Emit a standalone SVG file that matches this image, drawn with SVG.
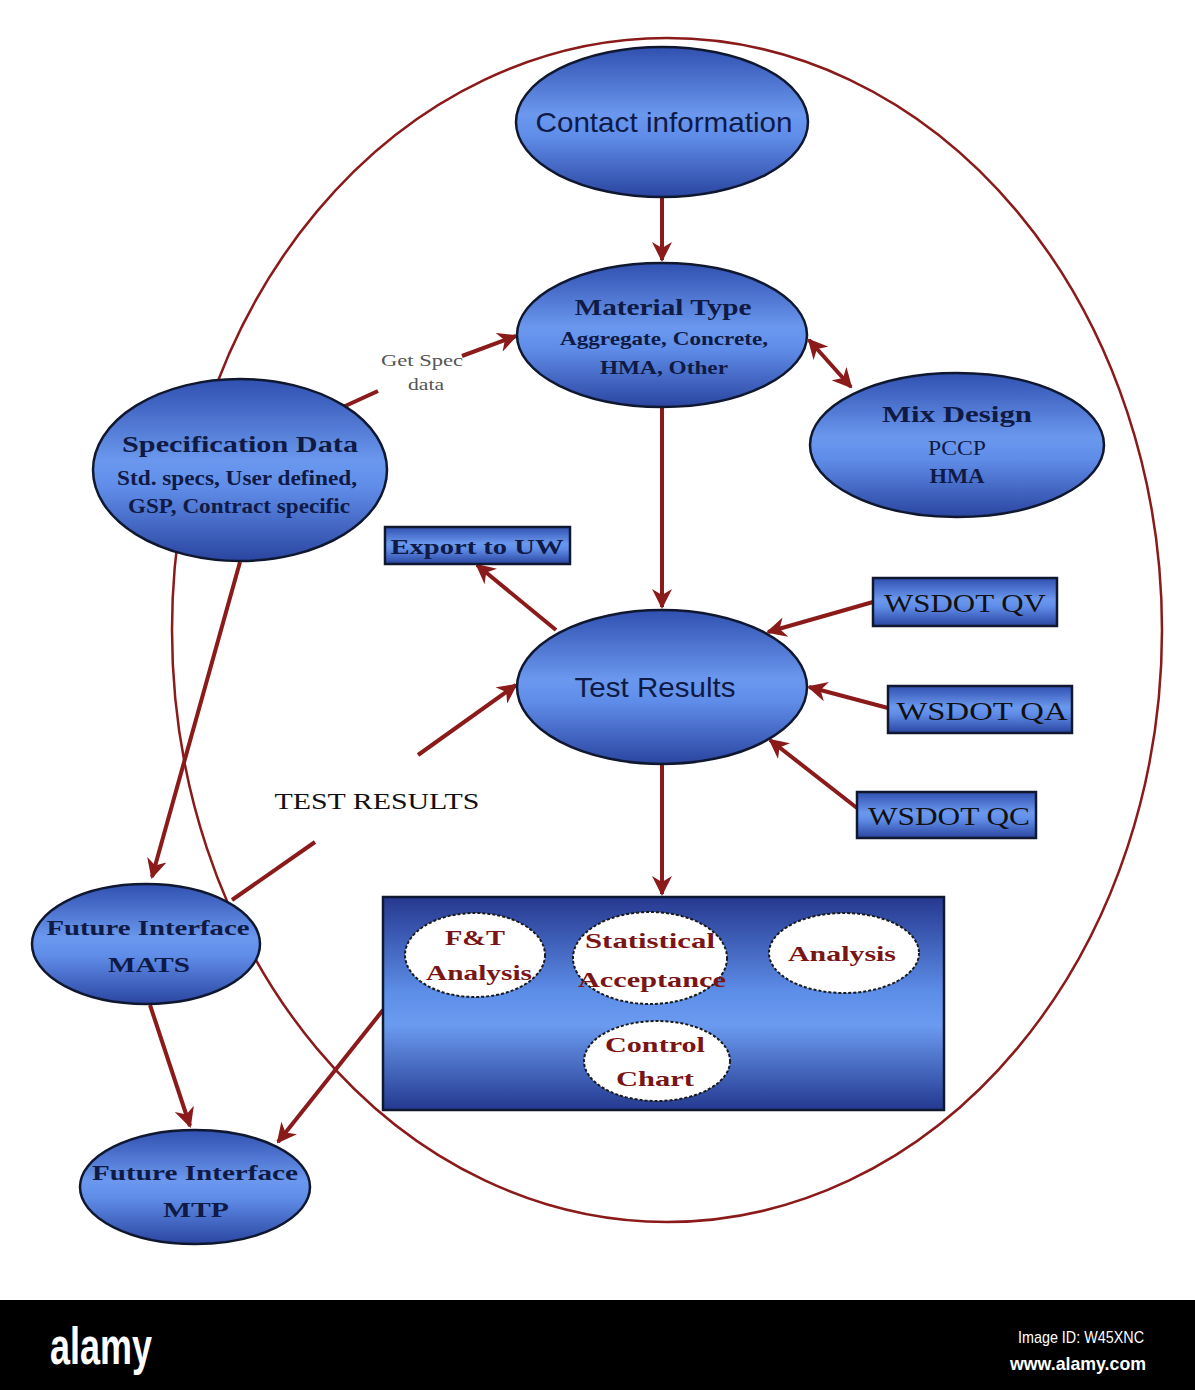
<svg xmlns="http://www.w3.org/2000/svg" width="1195" height="1390" viewBox="0 0 1195 1390">
<style>
.node{stroke:#101830;stroke-width:2.5}
.con{stroke:#8b1a1a;stroke-width:4;fill:none}
.ser{font-family:"Liberation Serif","Times New Roman",serif;fill:#0f1a45;text-anchor:middle}
.b{font-weight:bold}
.sans{font-family:"Liberation Sans",Arial,sans-serif;fill:#0f1a45;text-anchor:middle}
.inner{fill:#ffffff;stroke:#1a1a1a;stroke-width:2;stroke-dasharray:3 2}
.red{font-family:"Liberation Serif","Times New Roman",serif;font-weight:bold;fill:#7a1515;text-anchor:middle;font-size:22px}
.mono{font-family:"Liberation Serif","Times New Roman",serif;fill:#111;text-anchor:middle}
</style>
<defs>
<linearGradient id="g" x1="0" y1="0" x2="0" y2="1">
<stop offset="0" stop-color="#3050b0"/>
<stop offset="0.45" stop-color="#6b98ee"/>
<stop offset="0.6" stop-color="#5f8ce8"/>
<stop offset="1" stop-color="#2a45a0"/>
</linearGradient>
<linearGradient id="gb" x1="0" y1="0" x2="0" y2="1">
<stop offset="0" stop-color="#26388f"/>
<stop offset="0.45" stop-color="#5d8ee8"/>
<stop offset="0.6" stop-color="#6b9bf0"/>
<stop offset="1" stop-color="#23398f"/>
</linearGradient>
<marker id="ah" viewBox="0 0 10 10" refX="9" refY="5" markerWidth="5" markerHeight="5" orient="auto-start-reverse" markerUnits="strokeWidth">
<path d="M0,0 L10,5 L0,10 L3,5 z" fill="#8b1a1a"/>
</marker>
</defs>
<rect width="1195" height="1390" fill="#ffffff"/>

<g id="boundary">
<ellipse cx="667" cy="630" rx="495" ry="592" fill="none" stroke="#8b1a1a" stroke-width="2.5"/>
</g>

<g id="connectors">
<line class="con" x1="662" y1="198" x2="662" y2="260" marker-end="url(#ah)"/>
<line class="con" x1="343" y1="407" x2="378" y2="391"/>
<line class="con" x1="462" y1="356" x2="516" y2="336" marker-end="url(#ah)"/>
<line class="con" x1="809" y1="340" x2="851" y2="387" marker-start="url(#ah)" marker-end="url(#ah)"/>
<line class="con" x1="662" y1="408" x2="662" y2="607" marker-end="url(#ah)"/>
<line class="con" x1="556" y1="630" x2="477" y2="565" marker-end="url(#ah)"/>
<line class="con" x1="873" y1="602" x2="768" y2="632" marker-end="url(#ah)"/>
<line class="con" x1="888" y1="708" x2="809" y2="687" marker-end="url(#ah)"/>
<line class="con" x1="857" y1="808" x2="770" y2="740" marker-end="url(#ah)"/>
<line class="con" x1="418" y1="755" x2="516" y2="685" marker-end="url(#ah)"/>
<line class="con" x1="315" y1="842" x2="232" y2="900"/>
<line class="con" x1="662" y1="764" x2="662" y2="894" marker-end="url(#ah)"/>
<line class="con" x1="240" y1="562" x2="152" y2="877" marker-end="url(#ah)"/>
<line class="con" x1="150" y1="1005" x2="190" y2="1126" marker-end="url(#ah)"/>
<line class="con" x1="383" y1="1010" x2="278" y2="1142" marker-end="url(#ah)"/>
<text x="422" y="366" font-family="Liberation Serif,serif" font-size="17" fill="#555" text-anchor="middle" textLength="82" lengthAdjust="spacingAndGlyphs">Get Spec</text>
<text x="426" y="390" font-family="Liberation Serif,serif" font-size="17" fill="#555" text-anchor="middle" textLength="36" lengthAdjust="spacingAndGlyphs">data</text>
<text class="mono" x="377" y="809" font-size="23" textLength="205" lengthAdjust="spacingAndGlyphs">TEST RESULTS</text>
</g>

<g id="contact">
<ellipse class="node" cx="662" cy="122" rx="146" ry="75" fill="url(#g)"/>
<text class="sans" x="664" y="132" font-size="28" textLength="257" lengthAdjust="spacingAndGlyphs">Contact information</text>
</g>

<g id="material">
<ellipse class="node" cx="662" cy="335" rx="145" ry="72" fill="url(#g)"/>
<text class="ser b" x="663" y="315" font-size="23" textLength="177" lengthAdjust="spacingAndGlyphs">Material Type</text>
<text class="ser b" x="664" y="345" font-size="19" textLength="208" lengthAdjust="spacingAndGlyphs">Aggregate, Concrete,</text>
<text class="ser b" x="664" y="374" font-size="19" textLength="128" lengthAdjust="spacingAndGlyphs">HMA, Other</text>
</g>

<g id="mixdesign">
<ellipse class="node" cx="957" cy="445" rx="147" ry="72" fill="url(#g)"/>
<text class="ser b" x="957" y="422" font-size="23" textLength="150" lengthAdjust="spacingAndGlyphs">Mix Design</text>
<text class="ser" x="957" y="455" font-size="20" textLength="58" lengthAdjust="spacingAndGlyphs">PCCP</text>
<text class="ser b" x="957" y="483" font-size="20" textLength="55" lengthAdjust="spacingAndGlyphs">HMA</text>
</g>

<g id="specdata">
<ellipse class="node" cx="240" cy="470" rx="147" ry="91" fill="url(#g)"/>
<text class="ser b" x="240" y="452" font-size="24" textLength="236" lengthAdjust="spacingAndGlyphs">Specification Data</text>
<text class="ser b" x="237" y="485" font-size="20" textLength="240" lengthAdjust="spacingAndGlyphs">Std. specs, User defined,</text>
<text class="ser b" x="239" y="513" font-size="20" textLength="222" lengthAdjust="spacingAndGlyphs">GSP, Contract specific</text>
</g>

<g id="export">
<rect class="node" x="385" y="527" width="185" height="37" fill="url(#g)"/>
<text class="ser b" x="477" y="554" font-size="22" textLength="173" lengthAdjust="spacingAndGlyphs">Export to UW</text>
</g>

<g id="testresults">
<ellipse class="node" cx="662" cy="687" rx="145" ry="77" fill="url(#g)"/>
<text class="sans" x="655" y="697" font-size="28" textLength="161" lengthAdjust="spacingAndGlyphs">Test Results</text>
</g>

<g id="qv">
<rect class="node" x="873" y="578" width="184" height="48" fill="url(#g)"/>
<text class="mono" x="965" y="612" font-size="26" textLength="162" lengthAdjust="spacingAndGlyphs">WSDOT QV</text>
</g>

<g id="qa">
<rect class="node" x="888" y="686" width="184" height="47" fill="url(#g)"/>
<text class="mono" x="982" y="720" font-size="26" textLength="171" lengthAdjust="spacingAndGlyphs">WSDOT QA</text>
</g>

<g id="qc">
<rect class="node" x="857" y="792" width="179" height="46" fill="url(#g)"/>
<text class="mono" x="949" y="825" font-size="26" textLength="162" lengthAdjust="spacingAndGlyphs">WSDOT QC</text>
</g>

<g id="analysisbox">
<rect class="node" x="383" y="897" width="561" height="213" fill="url(#gb)"/>
<g id="ft">
<ellipse class="inner" cx="475" cy="955" rx="70" ry="42"/>
<text class="red" x="475" y="945" textLength="60" lengthAdjust="spacingAndGlyphs">F&amp;T</text>
<text class="red" x="479" y="980" textLength="106" lengthAdjust="spacingAndGlyphs">Analysis</text>
</g>
<g id="stat">
<ellipse class="inner" cx="650" cy="958" rx="77" ry="46"/>
<text class="red" x="650" y="948" textLength="130" lengthAdjust="spacingAndGlyphs">Statistical</text>
<text class="red" x="652" y="987" textLength="148" lengthAdjust="spacingAndGlyphs">Acceptance</text>
</g>
<g id="analysis">
<ellipse class="inner" cx="844" cy="953" rx="75" ry="40"/>
<text class="red" x="842" y="961" textLength="108" lengthAdjust="spacingAndGlyphs">Analysis</text>
</g>
<g id="control">
<ellipse class="inner" cx="657" cy="1061" rx="73" ry="40"/>
<text class="red" x="655" y="1052" textLength="100" lengthAdjust="spacingAndGlyphs">Control</text>
<text class="red" x="655" y="1086" textLength="78" lengthAdjust="spacingAndGlyphs">Chart</text>
</g>
</g>

<g id="mats">
<ellipse class="node" cx="146" cy="944" rx="114" ry="60" fill="url(#g)"/>
<text class="ser b" x="148" y="935" font-size="22" textLength="203" lengthAdjust="spacingAndGlyphs">Future Interface</text>
<text class="ser b" x="149" y="972" font-size="22" textLength="82" lengthAdjust="spacingAndGlyphs">MATS</text>
</g>

<g id="mtp">
<ellipse class="node" cx="195" cy="1187" rx="115" ry="57" fill="url(#g)"/>
<text class="ser b" x="195" y="1180" font-size="22" textLength="206" lengthAdjust="spacingAndGlyphs">Future Interface</text>
<text class="ser b" x="196" y="1217" font-size="22" textLength="66" lengthAdjust="spacingAndGlyphs">MTP</text>
</g>

<g id="footer">
<rect x="0" y="1300" width="1195" height="90" fill="#000000"/>
<text x="50" y="1364" font-family="Liberation Sans,Arial,sans-serif" font-weight="bold" font-size="52" fill="#ffffff" textLength="102" lengthAdjust="spacingAndGlyphs">alamy</text>
<text x="1144" y="1343" font-family="Liberation Sans,Arial,sans-serif" font-size="17" fill="#ffffff" text-anchor="end" textLength="126" lengthAdjust="spacingAndGlyphs">Image ID: W45XNC</text>
<text x="1146" y="1370" font-family="Liberation Sans,Arial,sans-serif" font-weight="bold" font-size="19" fill="#ffffff" text-anchor="end" textLength="136" lengthAdjust="spacingAndGlyphs">www.alamy.com</text>
</g>
</svg>
